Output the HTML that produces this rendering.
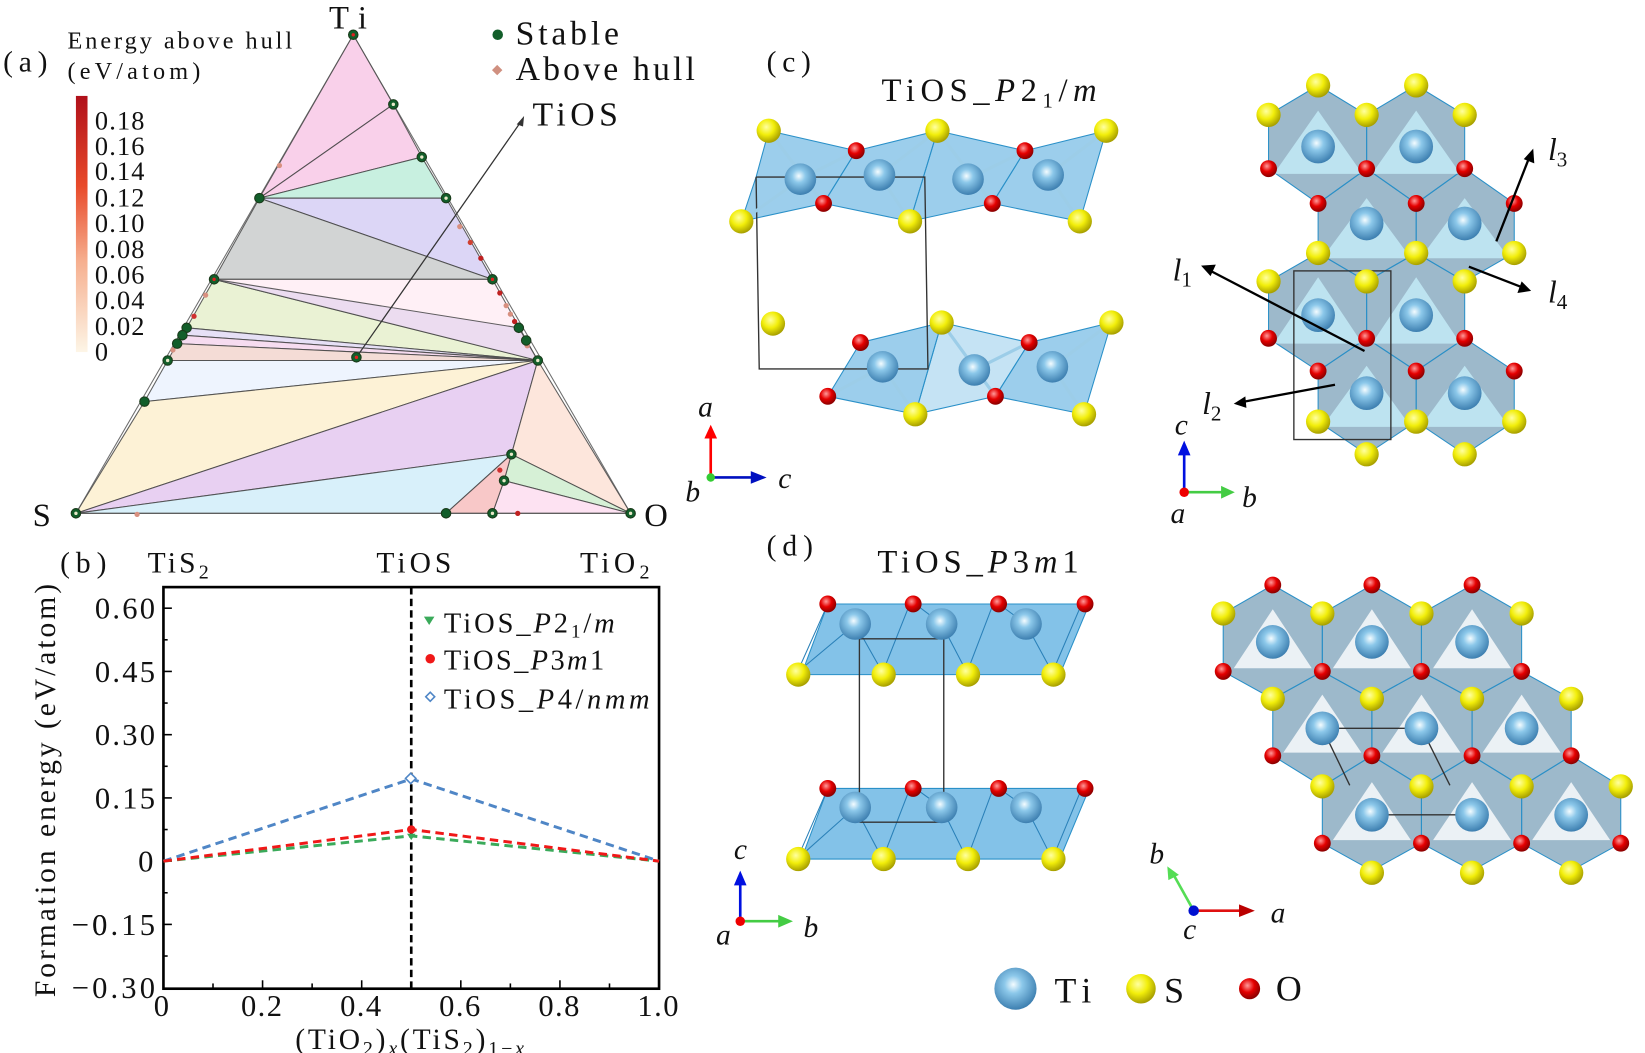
<!DOCTYPE html>
<html><head><meta charset="utf-8"><style>
html,body{margin:0;padding:0;background:#fff}
svg{display:block}
text{font-family:"Liberation Serif",serif;fill:#111}
</style></head><body>
<svg width="1645" height="1053" viewBox="0 0 1560 999" preserveAspectRatio="none" xmlns="http://www.w3.org/2000/svg">
<defs>
<radialGradient id="gT" cx="0.45" cy="0.4" r="0.6"><stop offset="0" stop-color="#f4fcff"/><stop offset="0.35" stop-color="#8cc8ea"/><stop offset="1" stop-color="#3d7fb0"/></radialGradient>
<radialGradient id="gS" cx="0.4" cy="0.35" r="0.65"><stop offset="0" stop-color="#ffffa0"/><stop offset="0.5" stop-color="#f2ee0a"/><stop offset="1" stop-color="#a8a000"/></radialGradient>
<radialGradient id="gO" cx="0.4" cy="0.35" r="0.65"><stop offset="0" stop-color="#ff9a9a"/><stop offset="0.5" stop-color="#e50000"/><stop offset="1" stop-color="#8a0000"/></radialGradient>
<linearGradient id="cb" x1="0" y1="1" x2="0" y2="0"><stop offset="0" stop-color="#fdf5e6"/><stop offset="0.35" stop-color="#f6b090"/><stop offset="0.65" stop-color="#e84a2a"/><stop offset="1" stop-color="#b0101a"/></linearGradient>
</defs>

<!-- ============ Panel (a) ============ -->
<g stroke="#444" stroke-width="1" stroke-opacity="0.85">
<polygon points="335,33 373,99 246,188" fill="#f8c8e6" fill-opacity="0.85"/>
<polygon points="373,99 400,149 246,188" fill="#f8c8e6" fill-opacity="0.85"/>
<polygon points="400,149 423,188 246,188" fill="#c8f0e0"/>
<polygon points="246,188 423,188 467,265" fill="#dcd6f6"/>
<polygon points="246,188 467,265 203,265" fill="#d2d4d4"/>
<polygon points="203,265 467,265 510,342" fill="#fff0f6"/>
<polygon points="203,265 510,342 177,311" fill="#eaf2d4"/>
<polygon points="203,265 492,311 510,342" fill="#ecdcf0"/>
<polygon points="177,311 510,342 173,318" fill="#e6e0f6"/>
<polygon points="173,318 510,342 168,326" fill="#f6dcf0"/>
<polygon points="168,326 510,342 159,342" fill="#f4dcd6"/>
<polygon points="159,342 510,342 137,381" fill="#eef4fe"/>
<polygon points="137,381 510,342 72,487" fill="#fdf2d6"/>
<polygon points="72,487 510,342 485,431" fill="#e8d0f2"/>
<polygon points="72,487 485,431 423,487" fill="#d8f0fa"/>
<polygon points="510,342 598,487 485,431" fill="#fde6dc"/>
<polygon points="485,431 598,487 478,456" fill="#d6f0d6"/>
<polygon points="478,456 598,487 467,487" fill="#fde2f2"/>
<polygon points="423,487 485,431 478,456 467,487" fill="#f8c8c8"/>
<polygon points="335,33 72,487 598,487" fill="none" stroke="#555"/>
</g>
<line x1="338" y1="339" x2="495" y2="114" stroke="#333" stroke-width="1.2"/>
<polygon points="497,110 490,118 496,120" fill="#333"/>
<g fill="#d89080">
<circle cx="265" cy="157" r="2.5"/><circle cx="436" cy="215" r="2.5"/><circle cx="446" cy="230" r="2.5" fill="#d04030"/><circle cx="456" cy="245" r="2.5" fill="#c02020"/><circle cx="474" cy="278" r="2.5" fill="#c02020"/><circle cx="480" cy="290" r="2.5"/><circle cx="484" cy="298" r="2.5"/><circle cx="488" cy="305" r="2.5" fill="#c02020"/><circle cx="500" cy="328" r="2.5"/><circle cx="195" cy="280" r="2.5"/><circle cx="184" cy="300" r="2.5" fill="#d03030"/><circle cx="164" cy="332" r="2.5"/><circle cx="130" cy="488" r="2.5"/><circle cx="491" cy="487" r="2.5" fill="#c02020"/><circle cx="474" cy="446" r="2.5" fill="#d03030"/>
</g>
<g stroke="#1a3a1a" stroke-width="1" fill="#125e2a">
<circle cx="335" cy="33" r="4.5"/><circle cx="373" cy="99" r="4.5"/><circle cx="400" cy="149" r="4.5"/><circle cx="246" cy="188" r="4.5"/><circle cx="423" cy="188" r="4.5"/><circle cx="203" cy="265" r="4.5"/><circle cx="467" cy="265" r="4.5"/><circle cx="177" cy="311" r="4.5"/><circle cx="173" cy="318" r="4.5"/><circle cx="168" cy="326" r="4.5"/><circle cx="159" cy="342" r="4.5"/><circle cx="338" cy="339" r="4.5"/><circle cx="510" cy="342" r="4.5"/><circle cx="492" cy="311" r="4.5"/><circle cx="499" cy="323" r="4.5"/><circle cx="137" cy="381" r="4.5"/><circle cx="485" cy="431" r="4.5"/><circle cx="478" cy="456" r="4.5"/><circle cx="423" cy="487" r="4.5"/><circle cx="467" cy="487" r="4.5"/><circle cx="72" cy="487" r="4.5"/><circle cx="598" cy="487" r="4.5"/>
</g>
<g fill="#e8e8c8"><circle cx="373" cy="99" r="1.6"/><circle cx="400" cy="149" r="1.6"/><circle cx="423" cy="188" r="1.6"/><circle cx="510" cy="342" r="1.6"/><circle cx="159" cy="342" r="1.6"/><circle cx="485" cy="431" r="1.6"/><circle cx="478" cy="456" r="1.6"/><circle cx="467" cy="487" r="1.6"/><circle cx="72" cy="487" r="1.6"/><circle cx="598" cy="487" r="1.6"/></g>
<g fill="#e02020"><circle cx="335" cy="33" r="1.6"/><circle cx="338" cy="339" r="1.6"/><circle cx="203" cy="265" r="1.6"/><circle cx="467" cy="265" r="1.6"/></g>
<text x="312" y="27" font-size="31" textLength="36">Ti</text>
<text x="31" y="499" font-size="31" textLength="19">S</text>
<text x="611" y="499" font-size="31" textLength="25">O</text>
<text x="3" y="68" font-size="28" textLength="42">(a)</text>
<text x="64" y="46" font-size="23" textLength="213">Energy above hull</text>
<text x="64" y="75" font-size="23" textLength="126">(eV/atom)</text>
<rect x="72" y="91" width="11" height="243" fill="url(#cb)"/>
<g font-size="25">
<text x="90" y="123" textLength="47">0.18</text><text x="90" y="147" textLength="47">0.16</text><text x="90" y="171" textLength="47">0.14</text><text x="90" y="196" textLength="47">0.12</text><text x="90" y="220" textLength="47">0.10</text><text x="90" y="245" textLength="47">0.08</text><text x="90" y="269" textLength="47">0.06</text><text x="90" y="293" textLength="47">0.04</text><text x="90" y="318" textLength="47">0.02</text><text x="90" y="342">0</text>
</g>
<circle cx="472" cy="33" r="5" fill="#125e2a"/>
<text x="489" y="42" font-size="32" textLength="98">Stable</text>
<rect x="468" y="63" width="7" height="7" fill="#d09080" transform="rotate(45 471.5 66.5)"/>
<text x="489" y="76" font-size="32" textLength="170">Above hull</text>
<text x="505" y="119" font-size="32" textLength="81">TiOS</text>

<!-- ============ Panel (b) ============ -->
<text x="57" y="543" font-size="28" textLength="44">(b)</text>
<text x="140" y="543" font-size="28" textLength="58">TiS<tspan font-size="19" dy="6">2</tspan></text>
<text x="357" y="543" font-size="28" textLength="71">TiOS</text>
<text x="550" y="543" font-size="28" textLength="66">TiO<tspan font-size="19" dy="6">2</tspan></text>
<rect x="155" y="557" width="470" height="381" fill="none" stroke="#000" stroke-width="2.5"/>
<g stroke="#000" stroke-width="1.5">
<line x1="202" y1="938" x2="202" y2="933"/><line x1="249" y1="938" x2="249" y2="930"/><line x1="296" y1="938" x2="296" y2="933"/><line x1="343" y1="938" x2="343" y2="930"/><line x1="437" y1="938" x2="437" y2="930"/><line x1="484" y1="938" x2="484" y2="933"/><line x1="531" y1="938" x2="531" y2="930"/><line x1="578" y1="938" x2="578" y2="933"/>
<line x1="155" y1="577" x2="163" y2="577"/><line x1="155" y1="607" x2="159" y2="607"/><line x1="155" y1="637" x2="163" y2="637"/><line x1="155" y1="667" x2="159" y2="667"/><line x1="155" y1="697" x2="163" y2="697"/><line x1="155" y1="727" x2="159" y2="727"/><line x1="155" y1="757" x2="163" y2="757"/><line x1="155" y1="787" x2="159" y2="787"/><line x1="155" y1="817" x2="163" y2="817"/><line x1="155" y1="847" x2="159" y2="847"/><line x1="155" y1="877" x2="163" y2="877"/><line x1="155" y1="907" x2="159" y2="907"/>
</g>
<g font-size="29">
<text x="90" y="587" textLength="57">0.60</text><text x="90" y="647" textLength="57">0.45</text><text x="90" y="707" textLength="57">0.30</text><text x="90" y="767" textLength="57">0.15</text><text x="131" y="827">0</text><text x="68" y="887" textLength="79">−0.30</text><text x="68" y="947" textLength="79">−0.30</text>
</g>
<rect x="100" y="865" width="50" height="28" fill="#fff"/>
<text x="68" y="887" font-size="29" textLength="79">−0.15</text>
<g font-size="29" text-anchor="middle">
<text x="153" y="964">0</text><text x="248" y="964" textLength="39">0.2</text><text x="342" y="964" textLength="39">0.4</text><text x="436" y="964" textLength="39">0.6</text><text x="530" y="964" textLength="39">0.8</text><text x="624" y="964" textLength="39">1.0</text>
</g>
<text x="280" y="995" font-size="28" textLength="217">(TiO<tspan font-size="19" dy="6">2</tspan><tspan dy="-6">)</tspan><tspan font-style="italic" font-size="19" dy="6">x</tspan><tspan dy="-6">(TiS</tspan><tspan font-size="19" dy="6">2</tspan><tspan dy="-6">)</tspan><tspan font-size="19" dy="6">1−<tspan font-style="italic">x</tspan></tspan></text>
<text transform="translate(52,750) rotate(-90)" font-size="28" text-anchor="middle" textLength="392" lengthAdjust="spacing">Formation energy (eV/atom)</text>
<line x1="390" y1="557" x2="390" y2="938" stroke="#000" stroke-width="2.5" stroke-dasharray="7,4"/>
<polyline points="155,817 390,739 625,817" fill="none" stroke="#4f86c6" stroke-width="2.8" stroke-dasharray="8,5"/>
<polyline points="155,817 390,793 625,817" fill="none" stroke="#3aaa5a" stroke-width="2.8" stroke-dasharray="8,5"/>
<polyline points="155,817 390,787 625,817" fill="none" stroke="#f01818" stroke-width="2.8" stroke-dasharray="8,5"/>
<rect x="386" y="735" width="7" height="7" fill="#fff" stroke="#4f86c6" stroke-width="1.5" transform="rotate(45 389.5 738.5)"/>
<circle cx="390" cy="787" r="4" fill="#f01818"/>
<polygon points="386,791 394,791 390,797" fill="#3aaa5a"/>
<polygon points="402,585 412,585 407,593" fill="#3aaa5a"/>
<text x="421" y="600" font-size="27" textLength="162">TiOS_<tspan font-style="italic">P</tspan>2<tspan font-size="18" dy="5">1</tspan><tspan dy="-5">/</tspan><tspan font-style="italic">m</tspan></text>
<circle cx="408" cy="625" r="4.5" fill="#f01818"/>
<text x="421" y="635" font-size="27" textLength="152">TiOS_<tspan font-style="italic">P</tspan>3<tspan font-style="italic">m</tspan>1</text>
<rect x="405" y="658" width="6" height="6" fill="#fff" stroke="#4f86c6" stroke-width="1.5" transform="rotate(45 408 661)"/>
<text x="421" y="672" font-size="27" textLength="195">TiOS_<tspan font-style="italic">P</tspan>4/<tspan font-style="italic">nmm</tspan></text>

<!-- ============ Panel (c) ============ -->
<text x="727" y="68" font-size="28" textLength="42">(c)</text>
<text x="836" y="96" font-size="31" textLength="204">TiOS_<tspan font-style="italic">P</tspan>2<tspan font-size="20" dy="6">1</tspan><tspan dy="-6">/</tspan><tspan font-style="italic">m</tspan></text>
<g fill="#5aaee0" fill-opacity="0.6" stroke="#2a90c8" stroke-width="1">
<polygon points="729,124 812,143 781,193 703,210 717,168"/>
<polygon points="812,143 889,124 863,210 781,193"/>
<polygon points="889,124 972,143 941,193 863,210"/>
<polygon points="972,143 1049,124 1024,210 941,193"/>
<polygon points="816,325 893,306 868,393 785,376"/>
<polygon points="893,306 976,325 944,376 868,393" fill-opacity="0.35"/>
<polygon points="976,325 1054,306 1028,393 944,376"/>
</g>
<polyline points="717,168 877,168 880,350 720,350 717,168" fill="none" stroke="#333" stroke-width="1.3"/>
<g stroke="#9ccde8" stroke-width="3">
<line x1="729" y1="124" x2="781" y2="193"/><line x1="703" y1="210" x2="759" y2="170"/><line x1="812" y1="143" x2="759" y2="170"/><line x1="889" y1="124" x2="834" y2="166"/><line x1="863" y1="210" x2="834" y2="166"/><line x1="889" y1="124" x2="941" y2="193"/><line x1="1049" y1="124" x2="994" y2="166"/><line x1="1024" y1="210" x2="994" y2="166"/><line x1="972" y1="143" x2="918" y2="170"/>
<line x1="893" y1="306" x2="944" y2="376"/><line x1="868" y1="393" x2="837" y2="348"/><line x1="1054" y1="306" x2="998" y2="348"/><line x1="1028" y1="393" x2="998" y2="348"/><line x1="785" y1="376" x2="837" y2="348"/><line x1="976" y1="325" x2="924" y2="351"/>
</g>
<g fill="url(#gT)"><circle cx="759" cy="170" r="15"/><circle cx="834" cy="166" r="15"/><circle cx="918" cy="170" r="15"/><circle cx="994" cy="166" r="15"/><circle cx="837" cy="348" r="15"/><circle cx="924" cy="351" r="15"/><circle cx="998" cy="348" r="15"/></g>
<g fill="url(#gO)"><circle cx="812" cy="143" r="8"/><circle cx="781" cy="193" r="8"/><circle cx="972" cy="143" r="8"/><circle cx="941" cy="193" r="8"/><circle cx="816" cy="325" r="8"/><circle cx="976" cy="325" r="8"/><circle cx="785" cy="376" r="8"/><circle cx="944" cy="376" r="8"/></g>
<g fill="url(#gS)"><circle cx="729" cy="124" r="11.5"/><circle cx="889" cy="124" r="11.5"/><circle cx="1049" cy="124" r="11.5"/><circle cx="703" cy="210" r="11.5"/><circle cx="863" cy="210" r="11.5"/><circle cx="1024" cy="210" r="11.5"/><circle cx="733" cy="307" r="11.5"/><circle cx="893" cy="306" r="11.5"/><circle cx="1054" cy="306" r="11.5"/><circle cx="868" cy="393" r="11.5"/><circle cx="1028" cy="393" r="11.5"/></g>
<line x1="674" y1="453" x2="674" y2="414" stroke="#f00" stroke-width="2.5"/><polygon points="668,416 680,416 674,403" fill="#f00"/>
<line x1="674" y1="453" x2="714" y2="453" stroke="#0010c0" stroke-width="2.5"/><polygon points="712,447 712,459 727,453" fill="#0010c0"/>
<circle cx="674" cy="453" r="4" fill="#3c3"/>
<text x="662" y="395" font-size="28" font-style="italic">a</text>
<text x="650" y="476" font-size="28" font-style="italic">b</text>
<text x="738" y="463" font-size="28" font-style="italic">c</text>

<!-- panel c right -->
<g fill="#3b7398" fill-opacity="0.5" stroke="#2a90c8" stroke-width="1">
<polygon points="1250,81 1296,109 1296,160 1250,193 1203,160 1203,109"/>
<polygon points="1343,81 1389,109 1389,160 1343,193 1296,160 1296,109"/>
<polygon points="1296,160 1343,193 1343,240 1296,267 1250,240 1250,193"/>
<polygon points="1389,160 1436,193 1436,240 1389,267 1343,240 1343,193"/>
<polygon points="1250,240 1296,267 1296,321 1250,352 1203,321 1203,267"/>
<polygon points="1343,240 1389,267 1389,321 1343,352 1296,321 1296,267"/>
<polygon points="1296,321 1343,352 1343,400 1296,431 1250,400 1250,352"/>
<polygon points="1389,321 1436,352 1436,400 1389,431 1343,400 1343,352"/>
</g>
<g fill="#c8f2fc" fill-opacity="0.75">
<polygon points="1250,105 1292,165 1208,165"/><polygon points="1343,105 1385,165 1301,165"/>
<polygon points="1296,188 1338,245 1254,245"/><polygon points="1389,188 1431,245 1347,245"/>
<polygon points="1250,263 1292,326 1208,326"/><polygon points="1343,263 1385,326 1301,326"/>
<polygon points="1296,347 1338,405 1254,405"/><polygon points="1389,347 1431,405 1347,405"/>
</g>
<rect x="1227" y="257" width="92" height="160" fill="none" stroke="#333" stroke-width="1.3"/>
<g fill="url(#gT)"><circle cx="1250" cy="139" r="16"/><circle cx="1343" cy="139" r="16"/><circle cx="1296" cy="212" r="16"/><circle cx="1389" cy="212" r="16"/><circle cx="1250" cy="299" r="16"/><circle cx="1343" cy="299" r="16"/><circle cx="1296" cy="373" r="16"/><circle cx="1389" cy="373" r="16"/></g>
<g fill="url(#gO)"><circle cx="1203" cy="160" r="8"/><circle cx="1296" cy="160" r="8"/><circle cx="1389" cy="160" r="8"/><circle cx="1250" cy="193" r="8"/><circle cx="1343" cy="193" r="8"/><circle cx="1436" cy="193" r="8"/><circle cx="1203" cy="321" r="8"/><circle cx="1296" cy="321" r="8"/><circle cx="1389" cy="321" r="8"/><circle cx="1250" cy="352" r="8"/><circle cx="1343" cy="352" r="8"/><circle cx="1436" cy="352" r="8"/></g>
<g fill="url(#gS)"><circle cx="1250" cy="81" r="11.5"/><circle cx="1343" cy="81" r="11.5"/><circle cx="1203" cy="109" r="11.5"/><circle cx="1296" cy="109" r="11.5"/><circle cx="1389" cy="109" r="11.5"/><circle cx="1250" cy="240" r="11.5"/><circle cx="1343" cy="240" r="11.5"/><circle cx="1436" cy="240" r="11.5"/><circle cx="1203" cy="267" r="11.5"/><circle cx="1296" cy="267" r="11.5"/><circle cx="1389" cy="267" r="11.5"/><circle cx="1250" cy="400" r="11.5"/><circle cx="1343" cy="400" r="11.5"/><circle cx="1436" cy="400" r="11.5"/><circle cx="1296" cy="431" r="11.5"/><circle cx="1389" cy="431" r="11.5"/></g>
<g stroke="#000" stroke-width="2.2">
<line x1="1294" y1="333" x2="1148" y2="257"/><line x1="1266" y1="365" x2="1180" y2="381"/><line x1="1419" y1="229" x2="1450" y2="150"/><line x1="1393" y1="253" x2="1442" y2="272"/>
</g>
<polygon points="1139,252 1153,251 1148,262" fill="#000"/>
<polygon points="1170,383 1181,376 1182,387" fill="#000"/>
<polygon points="1454,141 1455,155 1445,151" fill="#000"/>
<polygon points="1452,276 1439,278 1443,267" fill="#000"/>
<text x="1112" y="266" font-size="30" font-style="italic">l<tspan font-size="20" font-style="normal" dy="6">1</tspan></text>
<text x="1140" y="393" font-size="30" font-style="italic">l<tspan font-size="20" font-style="normal" dy="6">2</tspan></text>
<text x="1468" y="152" font-size="30" font-style="italic">l<tspan font-size="20" font-style="normal" dy="6">3</tspan></text>
<text x="1468" y="287" font-size="30" font-style="italic">l<tspan font-size="20" font-style="normal" dy="6">4</tspan></text>
<line x1="1123" y1="467" x2="1123" y2="430" stroke="#0010e0" stroke-width="2.5"/><polygon points="1117,432 1129,432 1123,418" fill="#0010e0"/>
<line x1="1123" y1="467" x2="1160" y2="467" stroke="#4c4" stroke-width="2.5"/><polygon points="1158,461 1158,473 1171,467" fill="#4c4"/>
<circle cx="1123" cy="467" r="4.5" fill="#e00"/>
<text x="1114" y="412" font-size="28" font-style="italic">c</text>
<text x="1110" y="496" font-size="28" font-style="italic">a</text>
<text x="1178" y="481" font-size="28" font-style="italic">b</text>

<!-- ============ Panel (d) ============ -->
<text x="727" y="527" font-size="28" textLength="44">(d)</text>
<text x="832" y="543" font-size="31" textLength="191">TiOS_<tspan font-style="italic">P</tspan>3<tspan font-style="italic">m</tspan>1</text>
<polygon points="785,573 1033,573 1005,640 760,640" fill="#5aaee0" fill-opacity="0.75" stroke="#2a90c8"/>
<polygon points="785,748 1033,748 1005,815 760,815" fill="#5aaee0" fill-opacity="0.75" stroke="#2a90c8"/>
<g stroke="#2a80b8" stroke-width="1" fill="none">
<polyline points="785,573 756,638 811,592 837,638 864,570 893,592 917,638 943,570 973,592 998,638 1027,570"/>
<polyline points="785,748 756,815 811,766 837,815 864,745 893,766 917,815 943,745 973,766 998,815 1027,745"/>
</g>
<g stroke="#333" stroke-width="1.3"><line x1="815" y1="600" x2="815" y2="775"/><line x1="895" y1="600" x2="895" y2="775"/><line x1="815" y1="606" x2="895" y2="606"/><line x1="815" y1="780" x2="895" y2="780"/></g>
<g fill="url(#gT)"><circle cx="811" cy="592" r="15"/><circle cx="893" cy="592" r="15"/><circle cx="973" cy="592" r="15"/><circle cx="811" cy="766" r="15"/><circle cx="893" cy="766" r="15"/><circle cx="973" cy="766" r="15"/></g>
<g fill="url(#gO)"><circle cx="785" cy="573" r="8"/><circle cx="866" cy="573" r="8"/><circle cx="947" cy="573" r="8"/><circle cx="1029" cy="573" r="8"/><circle cx="785" cy="748" r="8"/><circle cx="866" cy="748" r="8"/><circle cx="947" cy="748" r="8"/><circle cx="1029" cy="748" r="8"/></g>
<g fill="url(#gS)"><circle cx="757" cy="640" r="11.5"/><circle cx="838" cy="640" r="11.5"/><circle cx="918" cy="640" r="11.5"/><circle cx="999" cy="640" r="11.5"/><circle cx="757" cy="815" r="11.5"/><circle cx="838" cy="815" r="11.5"/><circle cx="918" cy="815" r="11.5"/><circle cx="999" cy="815" r="11.5"/></g>
<line x1="702" y1="874" x2="702" y2="838" stroke="#0010e0" stroke-width="2.5"/><polygon points="696,840 708,840 702,826" fill="#0010e0"/>
<line x1="702" y1="874" x2="740" y2="874" stroke="#4c4" stroke-width="2.5"/><polygon points="738,868 738,880 752,874" fill="#4c4"/>
<circle cx="702" cy="874" r="4.5" fill="#e00"/>
<text x="696" y="815" font-size="28" font-style="italic">c</text>
<text x="679" y="896" font-size="28" font-style="italic">a</text>
<text x="762" y="889" font-size="28" font-style="italic">b</text>

<!-- panel d right -->
<g fill="#3b7398" fill-opacity="0.5" stroke="#2a90c8" stroke-width="1">
<polygon points="1207,555 1254,582 1254,637 1207,663 1160,637 1160,582"/>
<polygon points="1301,555 1348,582 1348,637 1301,663 1254,637 1254,582"/>
<polygon points="1396,555 1443,582 1443,637 1396,663 1348,637 1348,582"/>
<polygon points="1254,637 1301,663 1301,717 1254,746 1207,717 1207,663"/>
<polygon points="1348,637 1396,663 1396,717 1348,746 1301,717 1301,663"/>
<polygon points="1443,637 1490,663 1490,717 1443,746 1396,717 1396,663"/>
<polygon points="1301,717 1348,746 1348,800 1301,826 1254,800 1254,746"/>
<polygon points="1396,717 1443,746 1443,800 1396,826 1348,800 1348,746"/>
<polygon points="1490,717 1537,746 1537,800 1490,826 1443,800 1443,746"/>
</g>
<g fill="#ffffff" fill-opacity="0.8">
<polygon points="1207,578 1244,634 1170,634"/><polygon points="1301,578 1338,634 1264,634"/><polygon points="1396,578 1433,634 1359,634"/>
<polygon points="1254,659 1291,714 1217,714"/><polygon points="1348,659 1385,714 1311,714"/><polygon points="1443,659 1480,714 1406,714"/>
<polygon points="1301,742 1338,797 1264,797"/><polygon points="1396,742 1433,797 1359,797"/><polygon points="1490,742 1527,797 1453,797"/>
</g>
<g stroke="#333" stroke-width="1.3"><line x1="1254" y1="691" x2="1348" y2="691"/><line x1="1301" y1="773" x2="1396" y2="773"/><line x1="1254" y1="691" x2="1280" y2="745"/><line x1="1348" y1="691" x2="1375" y2="745"/></g>
<g fill="url(#gT)"><circle cx="1207" cy="609" r="16"/><circle cx="1301" cy="609" r="16"/><circle cx="1396" cy="609" r="16"/><circle cx="1254" cy="691" r="16"/><circle cx="1348" cy="691" r="16"/><circle cx="1443" cy="691" r="16"/><circle cx="1301" cy="773" r="16"/><circle cx="1396" cy="773" r="16"/><circle cx="1490" cy="773" r="16"/></g>
<g fill="url(#gO)"><circle cx="1207" cy="555" r="8"/><circle cx="1301" cy="555" r="8"/><circle cx="1396" cy="555" r="8"/><circle cx="1160" cy="637" r="8"/><circle cx="1254" cy="637" r="8"/><circle cx="1348" cy="637" r="8"/><circle cx="1443" cy="637" r="8"/><circle cx="1207" cy="717" r="8"/><circle cx="1301" cy="717" r="8"/><circle cx="1396" cy="717" r="8"/><circle cx="1490" cy="717" r="8"/><circle cx="1254" cy="800" r="8"/><circle cx="1348" cy="800" r="8"/><circle cx="1443" cy="800" r="8"/><circle cx="1537" cy="800" r="8"/></g>
<g fill="url(#gS)"><circle cx="1160" cy="582" r="11.5"/><circle cx="1254" cy="582" r="11.5"/><circle cx="1348" cy="582" r="11.5"/><circle cx="1443" cy="582" r="11.5"/><circle cx="1207" cy="663" r="11.5"/><circle cx="1301" cy="663" r="11.5"/><circle cx="1396" cy="663" r="11.5"/><circle cx="1490" cy="663" r="11.5"/><circle cx="1254" cy="746" r="11.5"/><circle cx="1348" cy="746" r="11.5"/><circle cx="1443" cy="746" r="11.5"/><circle cx="1537" cy="746" r="11.5"/><circle cx="1301" cy="828" r="11.5"/><circle cx="1396" cy="828" r="11.5"/><circle cx="1490" cy="828" r="11.5"/></g>
<line x1="1132" y1="864" x2="1113" y2="830" stroke="#5d5" stroke-width="2.5"/><polygon points="1107,822 1118,830 1108,835" fill="#5d5"/>
<line x1="1132" y1="864" x2="1177" y2="864" stroke="#e01010" stroke-width="2.5"/><polygon points="1175,858 1175,870 1190,864" fill="#b00"/>
<circle cx="1132" cy="864" r="5" fill="#0010d0"/>
<text x="1090" y="819" font-size="28" font-style="italic">b</text>
<text x="1122" y="891" font-size="28" font-style="italic">c</text>
<text x="1205" y="875" font-size="28" font-style="italic">a</text>

<!-- legend -->
<circle cx="963" cy="938" r="20" fill="url(#gT)"/>
<text x="1000" y="951" font-size="34" textLength="35">Ti</text>
<circle cx="1082" cy="938" r="14" fill="url(#gS)"/>
<text x="1104" y="951" font-size="34">S</text>
<circle cx="1185" cy="938" r="10" fill="url(#gO)"/>
<text x="1210" y="949" font-size="34">O</text>
</svg>
</body></html>
